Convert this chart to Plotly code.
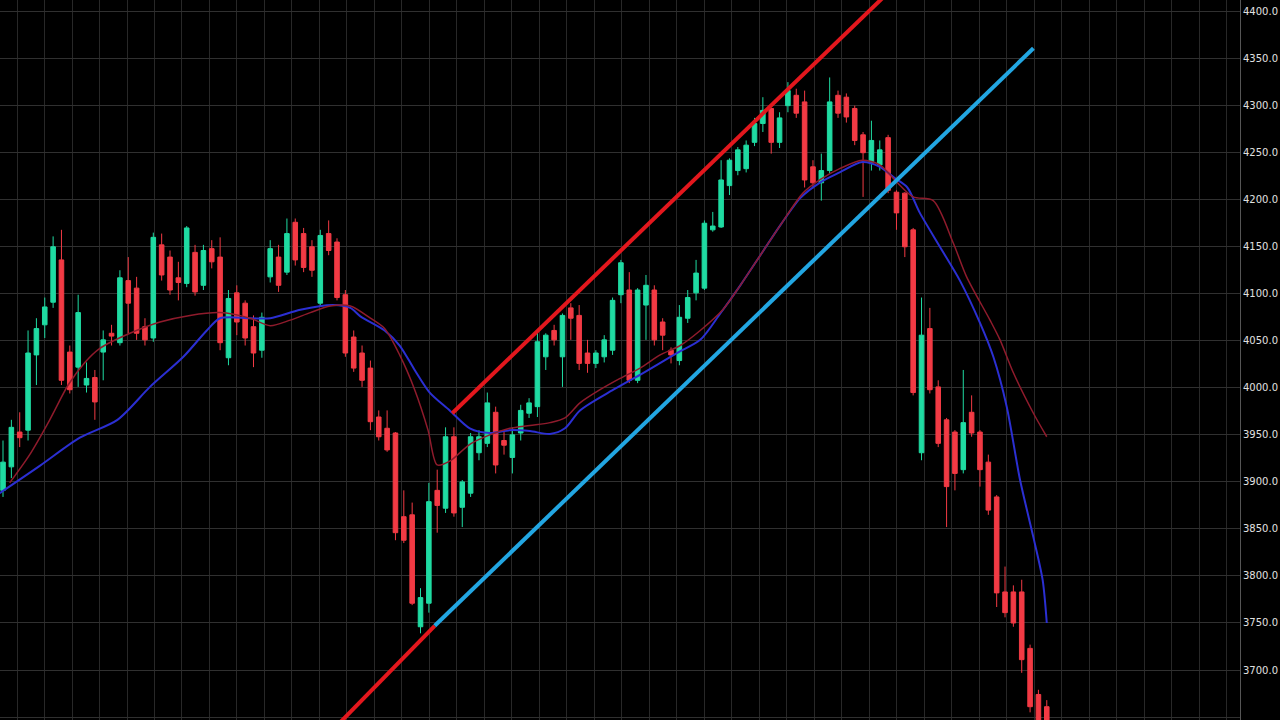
import plotly.graph_objects as go

# candle data, one entry per bar
OPEN = [3891, 3916, 3953, 3955, 4035, 4067, 4091, 4136, 4038, 4022,
        4003, 4011, 4038, 4058, 4048, 4114, 4106, 4065, 4053, 4152,
        4139, 4117, 4111, 4144, 4109, 4148, 4139, 4032, 4101, 4090,
        4065, 4040, 4118, 4139, 4123, 4176, 4164, 4150, 4090, 4164,
        4155, 4099, 4054, 4037, 4021, 3969, 3957, 3952, 3863, 3865,
        3746, 3771, 3891, 3872, 3948, 3873, 3888, 3931, 3941, 3974,
        3944, 3926, 3952, 3973, 3980, 4033, 4061, 4033, 4085, 4077,
        4037, 4026, 4033, 4040, 4099, 4104, 4008, 4088, 4104, 4070,
        4040, 4029, 4074, 4101, 4106, 4168, 4171, 4215, 4231, 4233,
        4261, 4281, 4297, 4261, 4300, 4311, 4304, 4235, 4218, 4231,
        4311, 4309, 4297, 4269, 4239, 4237, 4266, 4208, 4207, 4168,
        3931, 4063, 4001, 3966, 3953, 3913, 3974, 3953, 3921, 3884,
        3783, 3783, 3783, 3723, 3674, 3661]
HIGH = [3944, 3966, 3974, 4061, 4074, 4096, 4161, 4168, 4045, 4099,
        4027, 4019, 4061, 4067, 4125, 4139, 4118, 4074, 4165, 4164,
        4146, 4134, 4172, 4152, 4152, 4157, 4160, 4104, 4109, 4093,
        4077, 4080, 4157, 4152, 4180, 4180, 4170, 4157, 4168, 4178,
        4159, 4104, 4061, 4045, 4029, 3976, 3976, 3953, 3891, 3878,
        3787, 3899, 3913, 3958, 3958, 3902, 3952, 3955, 3995, 3980,
        3953, 3958, 3982, 3989, 4061, 4058, 4067, 4079, 4090, 4088,
        4051, 4040, 4056, 4096, 4136, 4123, 4106, 4120, 4109, 4074,
        4043, 4088, 4104, 4136, 4178, 4187, 4242, 4244, 4256, 4263,
        4287, 4309, 4298, 4293, 4325, 4318, 4316, 4242, 4249, 4330,
        4316, 4313, 4300, 4272, 4284, 4263, 4269, 4210, 4208, 4170,
        4096, 4085, 4008, 3968, 3955, 4019, 3992, 3955, 3929, 3886,
        3810, 3790, 3796, 3727, 3679, 3668]
LOW = [3884, 3904, 3937, 3944, 4003, 4053, 4085, 4003, 3994, 4001,
       3995, 3966, 4008, 4045, 4045, 4058, 4051, 4045, 4049, 4114,
       4099, 4093, 4107, 4098, 4104, 4127, 4040, 4024, 4056, 4045,
       4022, 4032, 4112, 4102, 4120, 4130, 4123, 4118, 4086, 4141,
       4093, 4033, 4017, 4001, 3955, 3944, 3932, 3838, 3835, 3769,
       3739, 3761, 3846, 3867, 3863, 3852, 3884, 3923, 3937, 3909,
       3929, 3909, 3944, 3968, 3969, 4019, 4045, 4001, 4051, 4019,
       4016, 4021, 4027, 4035, 4090, 4005, 4005, 4051, 4045, 4040,
       4026, 4024, 4069, 4093, 4104, 4166, 4170, 4205, 4226, 4229,
       4257, 4272, 4249, 4255, 4293, 4287, 4213, 4212, 4199, 4228,
       4287, 4282, 4258, 4203, 4231, 4231, 4207, 4168, 4139, 3992,
       3923, 3994, 3937, 3852, 3891, 3909, 3948, 3895, 3865, 3767,
       3756, 3746, 3697, 3655, 3626, 3615]
CLOSE = [3921, 3958, 3947, 4037, 4063, 4086, 4150, 4008, 3998, 4080,
         4010, 3985, 4051, 4055, 4117, 4090, 4058, 4051, 4160, 4120,
         4104, 4112, 4170, 4102, 4146, 4134, 4048, 4095, 4070, 4053,
         4037, 4075, 4148, 4109, 4164, 4136, 4128, 4125, 4162, 4146,
         4096, 4037, 4021, 4008, 3964, 3948, 3934, 3846, 3838, 3771,
         3777, 3879, 3875, 3948, 3867, 3900, 3948, 3948, 3984, 3918,
         3939, 3950, 3976, 3984, 4049, 4056, 4051, 4077, 4074, 4026,
         4026, 4037, 4051, 4093, 4133, 4008, 4104, 4109, 4051, 4056,
         4035, 4075, 4096, 4122, 4175, 4172, 4221, 4242, 4253, 4258,
         4281, 4295, 4261, 4287, 4316, 4292, 4221, 4218, 4231, 4304,
         4292, 4288, 4263, 4250, 4263, 4253, 4210, 4186, 4150, 3995,
         4056, 3998, 3941, 3895, 3909, 3963, 3952, 3913, 3870, 3782,
         3761, 3750, 3711, 3661, 3631, 3620]

# moving averages (bar index, price)
BLUE_MA_X = [-0.4, 4.4, 9.2, 13.7, 17.6, 21.6, 24.4, 26.0, 29.6, 32.0,
             35.6, 39.5, 41.6, 42.8, 45.7, 47.5, 49.3, 51.1, 53.5, 55.9,
             58.3, 60.7, 63.1, 65.5, 67.3, 69.1, 73.1, 76.7, 80.7, 83.5,
             85.9, 88.3, 90.7, 93.1, 95.5, 97.8, 100.2, 102.9, 105.0, 106.8,
             108.3, 109.8, 112.2, 114.6, 117.0, 118.6, 120.2, 121.8, 123.4, 124.5,
             125.0]
BLUE_MA_Y = [3888, 3917, 3947, 3966, 4001, 4033, 4061, 4074, 4074, 4074,
             4083, 4088, 4085, 4076, 4061, 4045, 4019, 3995, 3976, 3957,
             3952, 3955, 3954, 3951, 3957, 3976, 3998, 4016, 4037, 4051,
             4079, 4109, 4141, 4173, 4202, 4218, 4229, 4240, 4235, 4223,
             4213, 4186, 4150, 4114, 4069, 4033, 3980, 3902, 3841, 3796,
             3750]
RED_MA_X = [0.8, 3.2, 5.6, 7.8, 9.8, 11.6, 15.2, 18.8, 22.4, 26.0,
            29.6, 32.0, 34.4, 36.8, 39.2, 41.6, 44.0, 45.7, 47.5, 49.3,
            50.9, 52.0, 53.5, 55.9, 58.3, 60.7, 63.1, 65.5, 67.3, 69.1,
            71.5, 73.9, 76.3, 78.7, 81.1, 83.5, 86.2, 88.3, 90.7, 93.1,
            95.8, 97.8, 100.2, 102.9, 105.0, 106.8, 109.0, 111.4, 113.8, 115.4,
            118.2, 119.4, 121.0, 123.4, 125.0]
RED_MA_Y = [3899, 3929, 3966, 4003, 4027, 4042, 4058, 4070, 4077, 4080,
            4074, 4066, 4072, 4080, 4087, 4087, 4074, 4063, 4035, 3998,
            3955, 3918, 3922, 3940, 3950, 3957, 3960, 3963, 3968, 3984,
            3998, 4010, 4021, 4035, 4045, 4061, 4083, 4109, 4141, 4173,
            4207, 4221, 4233, 4242, 4237, 4221, 4203, 4199, 4154, 4118,
            4072, 4051, 4016, 3973, 3948]

# drawn trend lines
CHANNEL_TOP_X = [53.8, 106.8]
CHANNEL_TOP_Y = [3973, 4427]
CHANNEL_BOTTOM_X = [51.7, 123.4]
CHANNEL_BOTTOM_Y = [3747, 4361]
SUPPORT_X = [39.9, 51.7]
SUPPORT_Y = [3640, 3747]

PRICE_TICKS = list(range(3650, 4401, 50))

GREEN = "#1fdba2"
RED = "#f23a44"

fig = go.Figure()

fig.add_trace(go.Scatter(
    x=BLUE_MA_X, y=BLUE_MA_Y, mode="lines",
    line=dict(color="#2b2fd2", width=2, shape="spline", smoothing=0.8),
    hoverinfo="skip"
))
fig.add_trace(go.Scatter(
    x=RED_MA_X, y=RED_MA_Y, mode="lines",
    line=dict(color="#8f1b2c", width=1.5, shape="spline", smoothing=0.8),
    hoverinfo="skip"
))

fig.add_trace(go.Candlestick(
    x=list(range(len(OPEN))),
    open=OPEN, high=HIGH, low=LOW, close=CLOSE,
    increasing=dict(line=dict(color=GREEN, width=1), fillcolor=GREEN),
    decreasing=dict(line=dict(color=RED, width=1), fillcolor=RED),
    whiskerwidth=0
))

fig.add_trace(go.Scatter(
    x=SUPPORT_X, y=SUPPORT_Y, mode="lines",
    line=dict(color="#e3171d", width=4), hoverinfo="skip"
))
fig.add_trace(go.Scatter(
    x=CHANNEL_TOP_X, y=CHANNEL_TOP_Y, mode="lines",
    line=dict(color="#e3171d", width=4), hoverinfo="skip"
))
fig.add_trace(go.Scatter(
    x=CHANNEL_BOTTOM_X, y=CHANNEL_BOTTOM_Y, mode="lines",
    line=dict(color="#22a6e2", width=4), hoverinfo="skip"
))

fig.update_layout(
    width=1280, height=720,
    paper_bgcolor="#000000",
    plot_bgcolor="#000000",
    margin=dict(l=0, r=40, t=0, b=0),
    showlegend=False,
    boxgap=0.22,
    xaxis=dict(
        range=[-0.36, 148.14],
        showgrid=True, gridcolor="#282828", gridwidth=1,
        tick0=1.677, dtick=3.293,
        showticklabels=False, ticks="",
        zeroline=False,
        rangeslider=dict(visible=False),
    ),
    yaxis=dict(
        side="right",
        range=[3646.86, 4412.33],
        tickvals=PRICE_TICKS,
        tickformat=".1f",
        showgrid=True, gridcolor="#303030", gridwidth=1,
        showline=True, linecolor="#555555", linewidth=1,
        ticks="",
        tickfont=dict(family="DejaVu Sans", size=10, color="#e0e0e0"),
        zeroline=False,
    ),
)

fig.write_html(
    "out.html",
    config={"displayModeBar": False},
    post_script="document.body.style.margin='0';document.body.style.background='#000';",
)
